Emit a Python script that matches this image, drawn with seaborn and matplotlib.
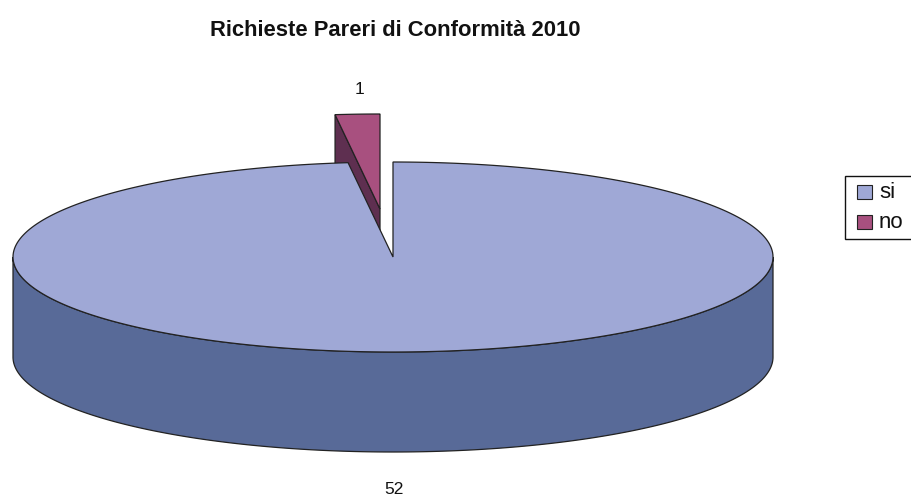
import numpy as np
import seaborn as sns
import matplotlib.pyplot as plt
from matplotlib.patches import Patch, Rectangle
from matplotlib.legend_handler import HandlerPatch

# Values
labels = ["si", "no"]
values = [52, 1]
title = "Richieste Pareri di Conformità 2010"

top_colors = ["#9FA8D6", "#A8507F"]
side_colors = ["#586A98", "#5E2F50"]
edge = "#222222"

sns.set_theme(style="white")
plt.rcParams["font.family"] = ["Liberation Sans", "DejaVu Sans"]

fig = plt.figure(figsize=(9.11, 4.97), dpi=100)
ax = fig.add_axes([0, 0, 1, 1])
# axes run in pixels so the pie geometry can be laid over the reference
ax.set_xlim(0, 911)
ax.set_ylim(497, 0)
ax.axis("off")

cx, cy = 393, 257
rx, ry = 380, 95
depth = 100
explode = (-13, -48)


def rim(a0, a1, ox=0, oy=0):
    # angles clockwise from twelve o'clock, degrees
    t = np.radians(np.linspace(a0, a1, 300))
    return cx + ox + rx * np.sin(t), cy + oy - ry * np.cos(t)


def legend_box(legend, orig_handle, xdescent, ydescent, width, height, fontsize):
    # small square, pushed right inside the handle slot
    return Rectangle((4.3 - xdescent, (height - 10.1) / 2 - ydescent - 1.4), 10.6, 10.1)


split = 360 * values[0] / sum(values)

# "no" slice goes first, the big slice covers the lower part of its side
ox, oy = explode
xs, ys = rim(split, 360, ox, oy)
ax.fill([xs[0], cx + ox, cx + ox, xs[0]],
        [ys[0], cy + oy, cy + oy + depth, ys[0] + depth],
        fc=side_colors[1], ec=edge, lw=0.9)
ax.fill(np.r_[cx + ox, xs], np.r_[cy + oy, ys], fc=top_colors[1], ec=edge, lw=0.9)

# "si" outer wall, only the front half shows
xs, ys = rim(90, 270)
ax.fill(np.r_[xs, xs[::-1]], np.r_[ys, ys[::-1] + depth],
        fc=side_colors[0], ec=edge, lw=0.9)

# "si" top
xs, ys = rim(0, split)
ax.fill(np.r_[cx, xs], np.r_[cy, ys], fc=top_colors[0], ec=edge, lw=0.9)

ax.text(395, 31, title, ha="center", va="center", fontsize=15.8, fontweight="bold",
        color="#111111")
ax.text(359, 89, str(values[1]), ha="center", va="center", fontsize=12.5, color="#111111")
ax.text(394, 490, str(values[0]), ha="center", va="center", fontsize=12.5, color="#111111")

# frame runs off the right edge of the picture, as in the original
handles = [Patch(fc=c, ec="#222222", lw=0.8) for c in top_colors]
leg = ax.legend(handles, labels, loc="upper left", bbox_to_anchor=(845, 176, 85, 0),
                bbox_transform=ax.transData, borderaxespad=0, frameon=True,
                mode="expand", fancybox=False, edgecolor="#111111", framealpha=1,
                fontsize=16, handlelength=1.0, handleheight=0.75, handletextpad=0.25,
                labelspacing=0.4, borderpad=0.28, labelcolor="#111111",
                handler_map={Patch: HandlerPatch(patch_func=legend_box)})
leg.get_frame().set_linewidth(1.0)

fig.savefig("out.png", dpi=100, facecolor="white")
